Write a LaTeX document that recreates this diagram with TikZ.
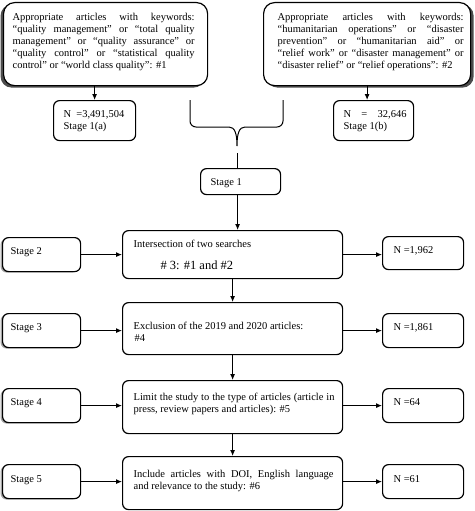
\documentclass[tikz,border=0pt]{standalone}
\usepackage{fontspec}
\setmainfont{Liberation Serif}
\usetikzlibrary{arrows.meta,shadows,calc}
% \bxt{height}{width}{left pad}{right pad}{first baseline}{text}
\newcommand\bxt[6]{\parbox[c][#1][t]{#2}{\leftskip=#3\rightskip=#4\rule{0pt}{#5}#6\par}}
\tikzset{
  box/.style={draw, line width=1.2pt, rounded corners=6pt, fill=white, inner sep=0pt, anchor=north west},
  bigbox/.style={box, rounded corners=11pt},
  shl/.style={drop shadow={shadow xshift=-3pt, shadow yshift=-2pt, fill=black!70, opacity=1}},
  shr/.style={drop shadow={shadow xshift=3pt, shadow yshift=-2pt, fill=black!70, opacity=1}},
  shs/.style={drop shadow={shadow xshift=-2pt, shadow yshift=-1pt, fill=black!35, opacity=1}},
  ln/.style={line width=1pt},
  arr/.style={ln, -{Latex[length=6pt,width=5pt]}}
}
\begin{document}
\begin{tikzpicture}[x=1pt, y=-1pt, font=\fontsize{10.5}{12}\selectfont]
\useasboundingbox (0,0) rectangle (474,511);

% top search boxes
\node[bigbox, shl] (A) at (3,2) {\bxt{83pt}{204pt}{9pt}{13pt}{17.5pt}{Appropriate articles with keywords: \linebreak “quality management” or “total quality \linebreak management” or “quality assurance” or \linebreak “quality control” or “statistical quality \linebreak control” or “world class quality”: \#1}};
\node[bigbox, shr] (B) at (263,2) {\bxt{83pt}{207pt}{14pt}{7pt}{17.5pt}{Appropriate articles with keywords: \linebreak “humanitarian operations” or “disaster \linebreak prevention” or “humanitarian aid” or \linebreak “relief work” or “disaster management” or \linebreak “disaster relief” or “relief operations”: \#2}};

\node[box] (N1) at (53,100) {\bxt{40pt}{82pt}{10pt}{6pt}{16.5pt}{N\ \ =3,491,504\\Stage 1(a)}};
\node[box] (N2) at (333,100) {\bxt{40pt}{80pt}{10pt}{7pt}{16.5pt}{N \hfill = \hfill 32,646\\Stage 1(b)}};

\draw[arr] (A.south -| N1.north) -- (N1.north);
\draw[arr] (B.south) -- (B.south |- N2.north);

% brace
\draw[ln] (190,100) -- (190,121) to[out=-90,in=180] (196,127) -- (229,127)
  .. controls (235,127) and (237,134) .. (237,146)
  .. controls (237,134) and (239,127) .. (245,127) -- (277,127)
  to[out=0,in=-90] (283,121) -- (283,100);
\coordinate (bt) at (237,153);

\node[box] (S1) at (200,168) {\bxt{26pt}{80pt}{10pt}{4pt}{16.5pt}{Stage 1}};
\draw[ln] (bt) -- (bt |- S1.north);

% stage rows
\node[box] (I2) at (122,230) {\bxt{48pt}{220pt}{11pt}{8pt}{16.5pt}{Intersection of two searches\\[10.5pt]\hspace*{27pt}{\fontsize{12.5}{14}\selectfont \# 3: \#1 and \#2}}};
\node[box, shs] (T2) at (2,237) {\bxt{34pt}{78pt}{8pt}{4pt}{16.5pt}{Stage 2}};
\node[box] (R2) at (382,236) {\bxt{33pt}{81pt}{11pt}{4pt}{16.5pt}{N =1,962}};

\node[box] (I3) at (122,302) {\bxt{52pt}{220pt}{11pt}{8pt}{26.5pt}{Exclusion of the 2019 and 2020 articles:\\\hspace*{1pt}\#4}};
\node[box, shs] (T3) at (2,313) {\bxt{34pt}{78pt}{8pt}{4pt}{16.5pt}{Stage 3}};
\node[box] (R3) at (382,313) {\bxt{34pt}{81pt}{11pt}{4pt}{16.5pt}{N =1,861}};

\node[box] (I4) at (122,380) {\bxt{53pt}{220pt}{11pt}{8pt}{19.5pt}{Limit the study to the type of articles (article in \linebreak press, review papers and articles): \#5}};
\node[box, shs] (T4) at (2,388) {\bxt{34pt}{78pt}{8pt}{4pt}{17pt}{Stage 4}};
\node[box] (R4) at (382,388) {\bxt{34pt}{81pt}{11pt}{4pt}{17pt}{N =64}};

\node[box] (I5) at (122,456) {\bxt{53pt}{220pt}{11pt}{9pt}{20.5pt}{Include articles with DOI, English language \linebreak and relevance to the study: \#6}};
\node[box, shs] (T5) at (2,464) {\bxt{34pt}{78pt}{8pt}{4pt}{17.5pt}{Stage 5}};
\node[box] (R5) at (382,464) {\bxt{34pt}{81pt}{11pt}{4pt}{17.5pt}{N =61}};

% vertical flow
\draw[arr] ([xshift=-3pt]S1.south) -- ([xshift=-3pt]S1.south |- I2.north);
\draw[arr] (I2.south) -- (I3.north);
\draw[arr] (I3.south) -- (I4.north);
\draw[arr] (I4.south) -- (I5.north);

% horizontal arrows
\draw[arr] (T2.east) -- (T2.east -| I2.west);
\draw[arr] (I2.east |- T2.east) -- (T2.east -| R2.west);
\draw[arr] (T3.east) -- (T3.east -| I3.west);
\draw[arr] (I3.east |- T3.east) -- (T3.east -| R3.west);
\draw[arr] (T4.east) -- (T4.east -| I4.west);
\draw[arr] (I4.east |- T4.east) -- (T4.east -| R4.west);
\draw[arr] (T5.east) -- (T5.east -| I5.west);
\draw[arr] (I5.east |- T5.east) -- (T5.east -| R5.west);
\end{tikzpicture}
\end{document}
